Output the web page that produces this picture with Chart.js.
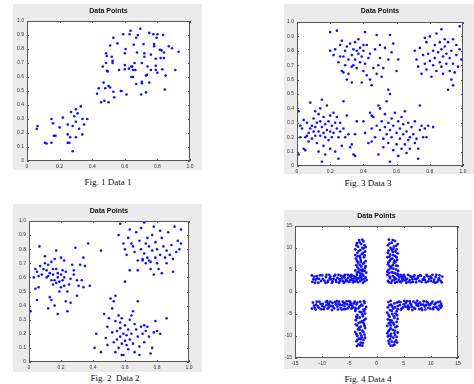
<!DOCTYPE html>
<html><head><meta charset="utf-8">
<script src="https://cdn.jsdelivr.net/npm/chart.js@4/dist/chart.umd.min.js"></script>
<style>
html,body{margin:0;padding:0;background:#fff;width:474px;height:384px;overflow:hidden;}
.panel{position:absolute;}
.cap{position:absolute;font-family:"Liberation Serif","Times New Roman",serif;font-size:9px;color:#111;transform:translateX(-50%);white-space:nowrap;line-height:1;}
</style></head><body>
<script>
// ---------- tick labels ----------
const ticksUnitX = [0, 0.2, 0.4, 0.6, 0.8, 1];
const ticksUnitY = [0, 0.1, 0.2, 0.3, 0.4, 0.5, 0.6, 0.7, 0.8, 0.9, 1];
const ticksCross = [-15, -10, -5, 0, 5, 10, 15];
const chartTitle = 'Data Points';
const captions = ['Fig. 1 Data 1', 'Fig. 2\u00a0 Data 2', 'Fig. 3 Data 3', 'Fig. 4 Data 4'];

// ---------- Data 1 ----------
const data1Low = [[0.06,0.23],[0.065,0.25],[0.11,0.13],[0.12,0.125],[0.15,0.30],[0.15,0.13],[0.16,0.27],[0.165,0.18],[0.175,0.18],[0.2,0.24],[0.22,0.31],[0.25,0.26],[0.25,0.13],[0.26,0.13],[0.25,0.19],[0.265,0.17],[0.27,0.35],[0.28,0.07],[0.28,0.25],[0.29,0.32],[0.3,0.37],[0.3,0.28],[0.31,0.34],[0.3,0.17],[0.32,0.23],[0.33,0.39],[0.34,0.30],[0.34,0.19],[0.35,0.26],[0.37,0.30]];
const data1High = [[0.43,0.48],[0.44,0.52],[0.455,0.42],[0.465,0.675],[0.47,0.56],[0.475,0.43],[0.48,0.52],[0.485,0.77],[0.49,0.75],[0.485,0.70],[0.49,0.645],[0.495,0.64],[0.5,0.535],[0.5,0.42],[0.51,0.525],[0.51,0.825],[0.52,0.745],[0.525,0.715],[0.525,0.70],[0.53,0.88],[0.53,0.495],[0.535,0.455],[0.555,0.84],[0.565,0.65],[0.575,0.50],[0.58,0.50],[0.59,0.905],[0.6,0.77],[0.6,0.685],[0.6,0.655],[0.605,0.80],[0.61,0.475],[0.625,0.66],[0.63,0.905],[0.635,0.93],[0.64,0.675],[0.64,0.6],[0.645,0.675],[0.65,0.6],[0.65,0.65],[0.655,0.83],[0.66,0.70],[0.665,0.65],[0.67,0.55],[0.67,0.88],[0.675,0.775],[0.68,0.90],[0.695,0.945],[0.70,0.475],[0.705,0.565],[0.705,0.555],[0.705,0.70],[0.715,0.835],[0.72,0.745],[0.72,0.77],[0.73,0.49],[0.73,0.61],[0.735,0.615],[0.74,0.675],[0.75,0.56],[0.75,0.915],[0.76,0.76],[0.76,0.65],[0.775,0.905],[0.78,0.835],[0.78,0.82],[0.79,0.65],[0.79,0.73],[0.79,0.68],[0.80,0.905],[0.795,0.88],[0.80,0.63],[0.815,0.795],[0.82,0.735],[0.825,0.79],[0.835,0.90],[0.83,0.655],[0.84,0.775],[0.84,0.735],[0.845,0.51],[0.85,0.61],[0.87,0.82],[0.89,0.805],[0.91,0.65],[0.93,0.78]];

// ---------- Data 2 ----------
const data2Left = [[0.0,0.36],[0.01,0.36],[0.03,0.60],[0.04,0.66],[0.04,0.52],[0.05,0.64],[0.05,0.44],[0.06,0.53],[0.06,0.61],[0.065,0.82],[0.07,0.68],[0.08,0.62],[0.09,0.66],[0.1,0.75],[0.1,0.70],[0.11,0.60],[0.11,0.65],[0.12,0.38],[0.12,0.69],[0.13,0.63],[0.13,0.46],[0.14,0.71],[0.14,0.44],[0.15,0.62],[0.15,0.55],[0.16,0.40],[0.16,0.73],[0.16,0.58],[0.17,0.79],[0.17,0.66],[0.17,0.56],[0.18,0.34],[0.18,0.60],[0.19,0.50],[0.19,0.57],[0.2,0.62],[0.2,0.53],[0.2,0.74],[0.21,0.58],[0.21,0.65],[0.22,0.60],[0.22,0.72],[0.23,0.64],[0.23,0.43],[0.24,0.50],[0.24,0.36],[0.25,0.55],[0.26,0.42],[0.26,0.59],[0.27,0.69],[0.28,0.62],[0.28,0.65],[0.29,0.81],[0.3,0.58],[0.3,0.47],[0.31,0.54],[0.32,0.69],[0.33,0.58],[0.34,0.74],[0.34,0.53],[0.35,0.68],[0.37,0.84],[0.38,0.54],[0.14,0.58],[0.15,0.66],[0.18,0.63],[0.22,0.54],[0.12,0.61]];
const data2Top = [[0.45,0.79],[0.56,0.90],[0.57,0.98],[0.59,0.84],[0.6,0.80],[0.61,0.76],[0.62,0.88],[0.63,0.65],[0.63,0.94],[0.64,0.84],[0.65,0.82],[0.66,0.78],[0.67,0.92],[0.68,0.72],[0.68,0.65],[0.69,0.86],[0.7,0.95],[0.7,0.80],[0.71,0.72],[0.72,0.77],[0.72,0.99],[0.73,0.84],[0.73,0.70],[0.74,0.88],[0.74,0.74],[0.75,0.82],[0.75,0.72],[0.76,0.66],[0.77,0.90],[0.77,0.79],[0.78,0.96],[0.78,0.62],[0.79,0.85],[0.79,0.74],[0.8,0.70],[0.8,0.80],[0.81,0.66],[0.82,0.93],[0.82,0.76],[0.83,0.63],[0.83,0.88],[0.84,0.82],[0.85,0.74],[0.86,0.70],[0.86,0.79],[0.87,0.92],[0.88,0.76],[0.89,0.83],[0.9,0.64],[0.9,0.73],[0.91,0.96],[0.92,0.78],[0.93,0.86],[0.94,0.80],[0.95,0.94],[0.95,0.84],[0.6,0.57],[0.71,0.73],[0.76,0.71]];
const data2Bottom = [[0.41,0.10],[0.42,0.20],[0.45,0.07],[0.47,0.34],[0.48,0.17],[0.49,0.25],[0.49,0.12],[0.5,0.31],[0.51,0.45],[0.52,0.38],[0.52,0.21],[0.53,0.14],[0.53,0.43],[0.54,0.47],[0.54,0.29],[0.54,0.07],[0.55,0.22],[0.55,0.16],[0.56,0.10],[0.56,0.33],[0.57,0.18],[0.57,0.24],[0.58,0.13],[0.58,0.31],[0.59,0.20],[0.59,0.05],[0.6,0.15],[0.6,0.26],[0.61,0.12],[0.61,0.19],[0.62,0.23],[0.62,0.09],[0.63,0.30],[0.63,0.16],[0.64,0.20],[0.65,0.36],[0.65,0.13],[0.66,0.27],[0.66,0.07],[0.67,0.23],[0.68,0.43],[0.68,0.18],[0.69,0.11],[0.69,0.05],[0.7,0.25],[0.71,0.20],[0.72,0.14],[0.72,0.26],[0.73,0.22],[0.74,0.25],[0.75,0.18],[0.76,0.06],[0.77,0.10],[0.78,0.21],[0.79,0.29],[0.8,0.22],[0.82,0.20],[0.86,0.31],[0.57,0.28],[0.64,0.33],[0.58,0.05]];

// ---------- Data 3 ----------
const data3BL = [[0.0,0.44],[0.01,0.38],[0.01,0.08],[0.02,0.20],[0.02,0.28],[0.03,0.26],[0.04,0.32],[0.04,0.12],[0.05,0.20],[0.05,0.11],[0.06,0.21],[0.06,0.30],[0.07,0.17],[0.07,0.23],[0.08,0.44],[0.08,0.26],[0.09,0.28],[0.09,0.19],[0.1,0.24],[0.1,0.33],[0.11,0.21],[0.11,0.38],[0.11,0.27],[0.12,0.30],[0.12,0.16],[0.13,0.36],[0.13,0.24],[0.13,0.10],[0.14,0.40],[0.14,0.21],[0.14,0.31],[0.15,0.46],[0.15,0.27],[0.15,0.03],[0.16,0.23],[0.16,0.34],[0.16,0.14],[0.17,0.29],[0.17,0.20],[0.17,0.08],[0.18,0.42],[0.18,0.25],[0.19,0.31],[0.19,0.18],[0.2,0.35],[0.2,0.24],[0.2,0.12],[0.21,0.28],[0.21,0.20],[0.22,0.37],[0.22,0.23],[0.23,0.30],[0.23,0.10],[0.24,0.26],[0.24,0.34],[0.25,0.20],[0.25,0.05],[0.26,0.30],[0.26,0.24],[0.27,0.14],[0.28,0.45],[0.28,0.26],[0.29,0.20],[0.3,0.35],[0.31,0.22],[0.32,0.13],[0.33,0.15],[0.34,0.08],[0.35,0.07]];
const data3TM = [[0.2,0.93],[0.2,0.80],[0.22,0.77],[0.23,0.81],[0.24,0.94],[0.25,0.72],[0.26,0.76],[0.26,0.84],[0.27,0.66],[0.27,0.87],[0.28,0.76],[0.28,0.65],[0.29,0.80],[0.29,0.70],[0.3,0.83],[0.3,0.60],[0.31,0.74],[0.31,0.64],[0.32,0.85],[0.33,0.77],[0.33,0.58],[0.34,0.81],[0.34,0.70],[0.35,0.86],[0.35,0.74],[0.36,0.80],[0.36,0.68],[0.37,0.78],[0.37,0.88],[0.38,0.82],[0.38,0.72],[0.39,0.76],[0.39,0.58],[0.4,0.80],[0.4,0.66],[0.41,0.93],[0.41,0.71],[0.42,0.84],[0.42,0.63],[0.43,0.75],[0.44,0.60],[0.44,0.78],[0.45,0.56],[0.46,0.68],[0.47,0.81],[0.48,0.91],[0.48,0.64],[0.49,0.70],[0.5,0.84],[0.5,0.75],[0.51,0.62],[0.52,0.68],[0.53,0.82],[0.55,0.74],[0.56,0.91],[0.57,0.79],[0.58,0.85],[0.6,0.66],[0.61,0.74],[0.33,0.69],[0.4,0.84]];
const data3TR = [[0.71,0.80],[0.72,0.74],[0.73,0.69],[0.74,0.82],[0.75,0.64],[0.76,0.77],[0.77,0.71],[0.78,0.86],[0.78,0.67],[0.79,0.78],[0.8,0.73],[0.8,0.90],[0.81,0.62],[0.82,0.80],[0.82,0.70],[0.83,0.84],[0.83,0.75],[0.84,0.66],[0.84,0.92],[0.85,0.79],[0.85,1.0],[0.86,0.72],[0.86,0.86],[0.87,0.69],[0.87,0.81],[0.88,0.76],[0.88,0.64],[0.89,0.83],[0.89,0.88],[0.9,0.71],[0.9,0.78],[0.91,0.53],[0.91,0.86],[0.92,0.66],[0.92,0.75],[0.93,0.80],[0.93,0.60],[0.94,0.71],[0.94,0.88],[0.95,0.65],[0.96,0.77],[0.96,0.84],[0.97,0.69],[0.98,0.81],[0.98,0.97],[0.99,0.74],[1.0,0.87],[0.87,0.95],[0.77,0.89],[0.94,0.56]];
const data3BM = [[0.4,0.31],[0.41,0.23],[0.43,0.16],[0.44,0.37],[0.45,0.26],[0.45,0.17],[0.46,0.34],[0.47,0.20],[0.48,0.28],[0.49,0.42],[0.49,0.08],[0.5,0.25],[0.5,0.40],[0.51,0.31],[0.52,0.19],[0.52,0.13],[0.53,0.36],[0.53,0.27],[0.54,0.22],[0.54,0.45],[0.55,0.30],[0.55,0.16],[0.55,0.53],[0.56,0.25],[0.56,0.03],[0.57,0.33],[0.57,0.20],[0.58,0.11],[0.58,0.28],[0.59,0.37],[0.6,0.23],[0.6,0.15],[0.61,0.31],[0.61,0.07],[0.62,0.26],[0.62,0.19],[0.63,0.34],[0.63,0.12],[0.64,0.29],[0.64,0.22],[0.65,0.15],[0.65,0.38],[0.66,0.24],[0.66,0.09],[0.67,0.30],[0.67,0.18],[0.68,0.20],[0.68,0.12],[0.69,0.27],[0.7,0.22],[0.71,0.16],[0.71,0.31],[0.72,0.19],[0.73,0.12],[0.73,0.05],[0.74,0.42],[0.74,0.25],[0.75,0.28],[0.76,0.20],[0.77,0.26],[0.78,0.20],[0.79,0.28],[0.82,0.27],[0.36,0.31],[0.35,0.22],[0.45,0.35],[0.56,0.50]];

// ---------- Data 4 ----------
const d4VUL = [[-3.2,11.8],[-2.4,11.5],[-3.6,11.1],[-2.8,10.9],[-2.2,10.6],[-3.4,10.3],[-2.6,10.0],[-3.9,9.7],[-3.0,9.5],[-2.1,9.2],[-3.5,8.9],[-2.7,8.6],[-3.1,8.2],[-2.3,7.9],[-3.8,7.6],[-2.9,7.3],[-2.0,7.0],[-3.4,6.7],[-2.5,6.4],[-3.7,6.1],[-2.8,5.8],[-2.1,5.5],[-3.3,5.2],[-3.9,4.9],[-2.6,4.7],[-1.9,4.4],[-3.0,4.2],[-3.6,3.9],[-2.4,3.7],[-2.0,3.3],[-3.2,3.1],[-2.7,2.8],[-3.8,2.6],[-2.2,2.4],[-3.4,2.2],[-2.9,6.9],[-3.5,8.1],[-2.4,9.9],[-3.1,11.3],[-2.5,5.1],[-3.6,4.4],[-2.3,3.0],[-1.8,2.7],[-3.0,3.6],
  [-2.6,11.9],[-3.7,10.6],[-2.0,10.2],[-3.3,9.3],[-2.5,8.9],[-3.9,8.4],[-2.2,8.3],[-3.0,7.8],[-3.6,7.1],[-2.3,6.6],[-3.1,6.2],[-2.0,5.9],[-3.5,5.6],[-2.9,5.0],[-2.2,4.8],[-3.3,4.6],[-2.6,4.0],[-3.9,3.4],[-2.8,3.3],[-3.6,2.9],[-2.5,2.1],[-3.0,2.5]];
const d4HUL = [[-11.8,2.3],[-11.5,3.5],[-11.2,2.8],[-10.9,3.1],[-10.7,2.1],[-10.4,3.8],[-9.6,2.6],[-9.3,3.4],[-9.0,2.2],[-8.7,3.9],[-8.4,2.9],[-8.1,2.4],[-7.8,3.6],[-7.5,2.7],[-7.2,3.2],[-6.9,2.1],[-6.6,3.7],[-6.2,2.5],[-5.9,3.3],[-5.6,2.8],[-5.3,3.9],[-5.0,2.3],[-4.7,3.4],[-4.4,2.6],[-4.1,3.1],[-11.0,3.6],[-9.9,3.0],[-8.9,2.6],[-7.9,3.0],[-6.8,2.9],[-6.0,2.1],[-5.4,2.5],[-4.9,3.7],[-4.5,2.9],[-7.0,3.9],[-8.5,3.5],[-10.2,2.5],[-11.6,2.9],[-5.8,3.9],[-4.3,2.2],
  [-11.9,3.8],[-11.3,2.1],[-10.6,3.0],[-10.0,3.8],[-9.4,2.1],[-8.6,3.1],[-8.2,2.1],[-7.6,3.9],[-7.4,2.3],[-6.7,2.5],[-6.4,3.1],[-5.7,2.4],[-5.2,3.2],[-4.8,2.7],[-4.6,3.9],[-4.2,3.6],[-3.9,2.4],[-3.7,3.3],[-6.1,3.6],[-9.2,3.9]];
const d4VUR = [[2.3,11.9],[3.4,11.6],[2.8,11.2],[3.9,10.9],[2.1,10.6],[3.2,10.3],[2.6,10.0],[3.7,9.7],[2.2,9.4],[3.0,9.1],[3.9,8.8],[2.5,8.5],[3.4,8.2],[2.0,7.9],[2.9,7.6],[3.8,7.3],[2.4,7.0],[3.2,6.6],[2.1,6.3],[3.6,6.0],[2.7,5.7],[3.1,5.3],[2.2,5.0],[4.0,4.8],[2.8,4.5],[3.5,4.2],[2.0,3.9],[3.0,3.6],[4.2,3.4],[2.5,3.1],[3.3,2.8],[2.1,2.5],[3.8,2.3],[2.7,2.1],[3.1,9.8],[2.4,8.0],[3.5,6.8],[2.6,5.4],[3.9,5.9],[2.3,4.3],[3.3,3.3],[2.9,2.6],
  [3.0,11.8],[2.4,11.0],[3.6,10.5],[2.8,9.6],[3.5,9.2],[2.1,8.9],[3.0,8.4],[3.7,7.9],[2.6,7.4],[3.3,7.1],[2.2,6.7],[3.0,6.1],[2.4,5.9],[3.6,5.1],[2.0,4.6],[3.1,4.4],[3.9,4.1],[2.4,3.5],[3.6,3.0],[2.3,2.2],[3.4,2.1]];
const d4HUR = [[4.3,2.4],[4.6,3.6],[4.9,2.9],[5.2,3.3],[5.5,2.1],[5.8,3.9],[6.1,2.7],[6.4,3.4],[6.7,2.3],[7.0,3.8],[7.3,2.9],[7.6,3.2],[7.9,2.5],[8.2,3.7],[8.5,2.8],[8.8,3.3],[9.1,2.2],[9.4,3.6],[9.7,3.0],[10.0,2.5],[10.3,3.9],[10.6,2.8],[10.9,3.4],[11.2,2.3],[11.5,3.1],[11.8,2.6],[12.1,3.5],[4.5,2.2],[5.0,3.9],[5.6,3.0],[6.3,2.2],[7.1,3.0],[8.0,3.8],[8.9,2.7],[9.9,3.5],[10.8,2.1],[11.6,3.8],[6.8,3.5],[5.3,2.6],[4.7,3.1],
  [4.4,3.9],[4.8,2.6],[5.1,3.6],[5.5,2.9],[5.9,2.3],[6.2,3.6],[6.6,2.9],[7.3,2.2],[7.7,3.6],[8.3,2.3],[8.7,2.9],[9.2,3.9],[9.5,2.4],[10.1,3.2],[10.5,2.3],[11.0,3.9],[11.4,2.7],[12.0,2.2],[4.1,2.8],[3.9,3.8]];
const d4HLL = [[-11.7,-2.4],[-11.4,-3.6],[-11.1,-2.9],[-10.8,-3.3],[-10.5,-2.2],[-10.2,-3.9],[-9.9,-2.7],[-9.6,-3.4],[-9.3,-2.3],[-9.0,-3.8],[-8.7,-2.9],[-8.4,-3.2],[-8.1,-2.5],[-7.8,-3.7],[-7.5,-2.8],[-7.2,-3.3],[-6.9,-2.2],[-6.6,-3.6],[-6.3,-3.0],[-6.0,-2.5],[-5.7,-3.9],[-5.4,-2.8],[-5.1,-3.4],[-4.8,-2.3],[-4.5,-3.1],[-4.2,-2.6],[-11.2,-4.0],[-10.0,-3.2],[-9.1,-2.1],[-8.2,-4.1],[-7.3,-2.1],[-6.4,-4.0],[-5.5,-2.1],[-4.6,-3.8],[-10.6,-3.6],[-8.8,-3.5],[-7.0,-2.7],[-5.9,-3.2],[-4.9,-2.9],[-11.5,-3.1],
  [-11.9,-3.8],[-11.0,-2.2],[-10.3,-2.7],[-9.7,-3.9],[-9.2,-3.0],[-8.5,-2.2],[-8.0,-3.3],[-7.6,-2.3],[-7.1,-4.0],[-6.7,-2.9],[-6.2,-2.2],[-5.8,-2.6],[-5.3,-3.7],[-5.0,-2.1],[-4.7,-2.7],[-4.3,-3.5],[-4.0,-2.2],[-3.8,-3.9],[-6.0,-3.9],[-8.9,-2.6]];
const d4VLL = [[-3.0,-2.2],[-2.2,-2.5],[-3.7,-2.8],[-2.6,-3.1],[-1.9,-3.4],[-3.3,-3.7],[-2.4,-4.0],[-3.9,-4.3],[-2.8,-4.6],[-2.1,-4.9],[-3.5,-5.2],[-2.5,-5.5],[-3.1,-5.8],[-2.0,-6.1],[-3.8,-6.4],[-2.7,-6.7],[-3.3,-7.0],[-2.3,-7.3],[-3.6,-7.6],[-2.9,-7.9],[-2.1,-8.2],[-3.4,-8.5],[-2.6,-8.8],[-3.9,-9.1],[-3.0,-9.4],[-2.2,-9.7],[-3.5,-10.0],[-2.7,-10.3],[-3.2,-10.6],[-2.4,-10.9],[-3.7,-11.2],[-2.9,-11.5],[-3.3,-11.9],[-2.6,-12.2],[-3.1,-3.3],[-2.5,-6.9],[-3.2,-8.1],[-2.8,-9.9],[-3.6,-5.9],[-2.3,-4.4],
  [-2.3,-2.1],[-3.5,-2.4],[-2.8,-2.9],[-3.9,-3.6],[-2.1,-3.9],[-3.1,-4.5],[-2.6,-5.1],[-3.7,-5.6],[-2.3,-6.4],[-3.0,-6.9],[-3.8,-7.4],[-2.2,-7.7],[-3.1,-8.6],[-2.4,-9.1],[-3.7,-9.6],[-2.9,-10.7],[-2.1,-10.4],[-3.5,-10.9],[-2.5,-11.6],[-3.0,-12.1],[-3.6,-12.3]];
const d4HLR = [[4.4,-2.3],[4.7,-3.7],[5.0,-2.8],[5.3,-3.3],[5.6,-2.1],[5.9,-3.9],[6.2,-2.6],[6.5,-3.4],[6.8,-2.2],[7.1,-3.8],[7.4,-3.0],[7.7,-3.2],[8.0,-2.4],[8.3,-3.7],[8.6,-2.9],[8.9,-3.3],[9.2,-2.2],[9.5,-3.6],[9.8,-3.0],[10.1,-2.6],[10.4,-3.9],[10.7,-2.8],[11.0,-3.4],[11.3,-2.3],[11.6,-3.1],[11.9,-2.7],[4.5,-4.0],[5.1,-2.0],[5.8,-3.1],[6.6,-4.1],[7.2,-2.5],[7.9,-3.9],[8.7,-2.1],[9.6,-2.8],[10.5,-3.5],[11.4,-4.0],[6.0,-3.5],[7.5,-2.0],[9.0,-4.0],[11.8,-3.6],
  [4.3,-3.0],[4.9,-3.5],[5.4,-2.5],[5.7,-3.5],[6.1,-2.1],[6.4,-2.9],[6.9,-3.6],[7.6,-2.7],[8.2,-2.9],[8.4,-4.1],[9.1,-3.0],[9.4,-2.4],[9.9,-3.8],[10.3,-2.2],[10.9,-2.5],[11.2,-3.7],[11.7,-2.2],[12.0,-3.2],[4.1,-2.2],[3.9,-3.9]];
const d4VLR = [[2.2,-2.3],[3.3,-2.6],[2.7,-2.9],[3.9,-3.2],[2.1,-3.5],[3.1,-3.8],[2.5,-4.1],[3.7,-4.4],[2.0,-4.7],[2.9,-5.0],[3.8,-5.3],[2.4,-5.6],[3.3,-5.9],[2.1,-6.2],[2.8,-6.5],[3.7,-6.8],[2.3,-7.1],[3.2,-7.4],[2.0,-7.7],[3.5,-8.0],[2.6,-8.3],[3.0,-8.6],[2.2,-8.9],[3.9,-9.2],[2.7,-9.5],[3.4,-9.8],[2.1,-10.1],[3.1,-10.4],[2.5,-10.7],[3.6,-11.0],[2.8,-11.3],[2.3,-11.7],[3.3,-12.0],[2.9,-3.3],[3.5,-4.9],[2.6,-6.9],[3.4,-8.8],[2.3,-9.9],[3.8,-11.5],[2.6,-12.2],
  [2.6,-2.0],[3.8,-2.4],[2.4,-3.0],[3.4,-3.5],[2.8,-4.3],[2.2,-5.2],[3.2,-5.5],[3.9,-6.1],[2.5,-6.4],[3.1,-7.0],[2.6,-7.6],[3.8,-7.8],[2.4,-8.6],[3.3,-9.3],[2.0,-9.4],[3.7,-10.2],[2.7,-10.1],[2.2,-11.1],[3.3,-11.4],[3.0,-12.2]];

// ---------- layout (page pixels) ----------
const panels = [
  {pts:[].concat(data1Low,data1High), xt:ticksUnitX, yt:ticksUnitY, box:[13,4,189,166], area:[14,17,177,157], tpad:2.5, r:1.3, cap:[108,178]},
  {pts:[].concat(data2Left,data2Top,data2Bottom), xt:ticksUnitX, yt:ticksUnitY, box:[13,204,189,168], area:[16,17,176,158], tpad:2.5, r:1.3, cap:[115,374]},
  {pts:[].concat(data3BL,data3TM,data3TR,data3BM), xt:ticksUnitX, yt:ticksUnitY, box:[284,4,190,170], area:[13,18,179,162], tpad:2.5, r:1.3, cap:[368,178.5]},
  {pts:[].concat(d4VUL,d4HUL,d4VUR,d4HUR,d4HLL,d4VLL,d4HLR,d4VLR), xt:ticksCross, yt:ticksCross, box:[284,210,188,159], area:[11,16,174,148], tpad:1.8, r:1.4, cap:[368,374.5]}
];

const framePlugin = {
  id:'frame',
  beforeDraw(chart){
    const {ctx, chartArea:a, width, height} = chart;
    ctx.save();
    ctx.fillStyle = '#ebebeb';
    ctx.fillRect(0,0,width,height);
    ctx.fillStyle = '#ffffff';
    ctx.fillRect(a.left,a.top,a.right-a.left,a.bottom-a.top);
    ctx.restore();
  },
  afterDatasetsDraw(chart){
    const {ctx, chartArea:a, scales} = chart;
    ctx.save();
    ctx.strokeStyle = '#555';
    ctx.lineWidth = 1;
    ctx.beginPath();
    scales.x.ticks.forEach(t=>{
      const px = Math.round(scales.x.getPixelForValue(t.value))+0.5;
      ctx.moveTo(px,a.bottom); ctx.lineTo(px,a.bottom-2);
      ctx.moveTo(px,a.top); ctx.lineTo(px,a.top+2);
    });
    scales.y.ticks.forEach(t=>{
      const py = Math.round(scales.y.getPixelForValue(t.value))+0.5;
      ctx.moveTo(a.left,py); ctx.lineTo(a.left+2,py);
      ctx.moveTo(a.right,py); ctx.lineTo(a.right-2,py);
    });
    ctx.stroke();
    ctx.strokeRect(Math.round(a.left)+0.5, Math.round(a.top)+0.5, Math.round(a.right-a.left)-1, Math.round(a.bottom-a.top)-1);
    ctx.restore();
  }
};

const tickFont = {family:'"Liberation Sans", Arial, sans-serif', size:5};

panels.forEach((p,i)=>{
  const [bl,bt,bw,bh] = p.box;
  const [al,at,ar,ab] = p.area;
  const div = document.createElement('div');
  div.className='panel';
  div.style.cssText = `left:${bl}px;top:${bt}px;width:${bw}px;height:${bh}px;`;
  const cv = document.createElement('canvas');
  div.appendChild(cv);
  document.body.appendChild(div);
  const cap = document.createElement('div');
  cap.className='cap';
  cap.style.left = p.cap[0]+'px';
  cap.style.top = p.cap[1]+'px';
  cap.textContent = captions[i];
  document.body.appendChild(cap);
  const lh = 7*1.2;
  new Chart(cv, {
    type:'scatter',
    data:{datasets:[{data:p.pts.map(q=>({x:q[0],y:q[1]})), backgroundColor:'#1010ff', borderWidth:0, pointRadius:p.r, pointHoverRadius:p.r}]},
    options:{
      responsive:true, maintainAspectRatio:false, animation:false, events:[],
      layout:{autoPadding:false, padding:{left:0, top:0, right:bw-ar, bottom:0}},
      plugins:{
        legend:{display:false}, tooltip:{enabled:false},
        title:{display:true, text:chartTitle, fullSize:false, color:'#111',
          font:{family:'"Liberation Sans", Arial, sans-serif', size:7, weight:'bold'},
          padding:{top:p.tpad, bottom:at-p.tpad-lh}}
      },
      scales:{
        x:{type:'linear', min:p.xt[0], max:p.xt[p.xt.length-1],
          afterBuildTicks:s=>{s.ticks=p.xt.map(v=>({value:v}));},
          afterFit:s=>{s.height=bh-ab;},
          grid:{display:false, drawTicks:false}, border:{display:false},
          ticks:{font:tickFont, color:'#333', padding:3, maxRotation:0, minRotation:0, autoSkip:false}},
        y:{type:'linear', min:p.yt[0], max:p.yt[p.yt.length-1],
          afterBuildTicks:s=>{s.ticks=p.yt.map(v=>({value:v}));},
          afterFit:s=>{s.width=al;},
          grid:{display:false, drawTicks:false}, border:{display:false},
          ticks:{font:tickFont, color:'#333', padding:3, autoSkip:false}}
      }
    },
    plugins:[framePlugin]
  });
});
</script>
</body></html>
